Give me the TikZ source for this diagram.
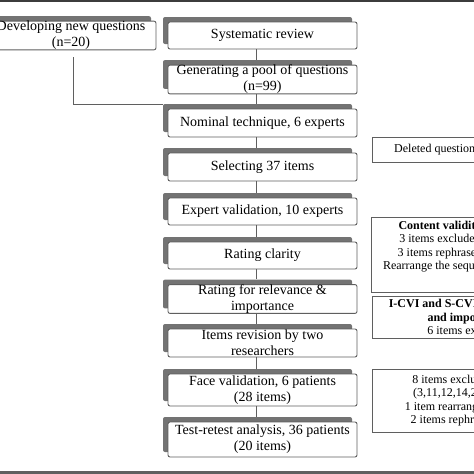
\documentclass[tikz,border=0pt]{standalone}
\usepackage{fontspec}
\setmainfont{Liberation Serif}
\usepackage{tikz}
\usetikzlibrary{
    shadows
}
\definecolor{printGray}{RGB}{95, 95, 95}
\definecolor{shadeGray}{RGB}{115, 115, 115}
\definecolor{barGray}{RGB}{60, 60, 60}

\begin{document}
\begin{tikzpicture}[x=1pt, y=-1pt,
        stage/.style={draw=printGray, line width=0.9pt, rounded corners=2pt, fill=white,
            minimum width=189pt, minimum height=28pt, inner sep=0pt, align=center,
            font=\fontsize{14}{16}\selectfont,
            drop shadow={shadow xshift=-5pt, shadow yshift=5pt, fill=shadeGray, opacity=1}},
        note/.style={draw=printGray, line width=0.8pt, fill=white, inner sep=0pt,
            align=center, font=\fontsize{12}{13.5}\selectfont},
        link/.style={draw=printGray, line width=0.9pt}]
            \useasboundingbox (0,0) rectangle (474,474);
            \clip (0,0) rectangle (474,474);
            \fill[barGray] (0,0) rectangle (474,2);
            \fill[printGray] (0,471) rectangle (474,474);

            \node[stage, minimum width=170pt, minimum height=27pt] (dev) at (71,35.5) {Developing new questions\\(n=20)};
            \node[stage, minimum height=27pt] (sys) at (262.5,35.5) {Systematic review};
            \node[stage] (gen) at (262.5,79.5) {Generating a pool of questions\\(n=99)};
            \node[stage] (nom) at (262.5,123) {Nominal technique, 6 experts};
            \node[stage] (sel) at (262.5,167) {Selecting 37 items};
            \node[stage, minimum height=27pt] (exp) at (262.5,211.5) {Expert validation, 10 experts};
            \node[stage, minimum height=27pt] (clar) at (262.5,255.5) {Rating clarity};
            \node[stage] (rel) at (262.5,299) {Rating for relevance \&\\importance};
            \node[stage] (rev) at (262.5,343) {Items revision by two\\researchers};
            \node[stage, minimum height=32pt] (face) at (262.5,390) {Face validation, 6 patients\\(28 items)};
            \node[stage, minimum height=35pt] (test) at (262.5,439.5) {Test-retest analysis, 36 patients\\(20 items)};

            \draw[link] ([xshift=-6pt]sys.south) -- ([xshift=-6pt, yshift=5pt]gen.north)
                ([xshift=-6pt]gen.south) -- ([xshift=-6pt, yshift=5pt]nom.north)
                ([xshift=-6pt]nom.south) -- ([xshift=-6pt, yshift=5pt]sel.north)
                ([xshift=-6pt]sel.south) -- ([xshift=-6pt, yshift=5pt]exp.north)
                ([xshift=-6pt]exp.south) -- ([xshift=-6pt, yshift=5pt]clar.north)
                ([xshift=-6pt]clar.south) -- ([xshift=-6pt, yshift=5pt]rel.north)
                ([xshift=-6pt]rel.south) -- ([xshift=-6pt, yshift=5pt]rev.north)
                ([xshift=-6pt]rev.south) -- ([xshift=-6pt, yshift=5pt]face.north)
                ([xshift=-6pt]face.south) -- ([xshift=-6pt, yshift=5pt]test.north);
            \draw[link] ([xshift=2pt, yshift=-7pt]dev.south) |- ([xshift=-5pt, yshift=4pt]nom.north west);

            \node[note, minimum width=130pt, minimum height=25pt] (deleted) at (437,149.5) {Deleted questions};
            \node[note, minimum width=138pt, minimum height=75pt] (cvr) at (440,254.5) {\textbf{Content validity}\\3 items excluded\\3 items rephrased\\Rearrange the sequence\\[5pt]};
            \node[note, minimum width=192pt, minimum height=42pt] (cvi) at (468,317) {\textbf{I-CVI and S-CVI for relevance}\\\textbf{and importance}\\6 items excluded};
            \node[note, minimum width=162pt, minimum height=63pt] (facenote) at (453,400.5) {8 items excluded\\(3,11,12,14,2\dots)\\1 item rearrange the\\2 items rephrased};
        \end{tikzpicture}
\end{document}
